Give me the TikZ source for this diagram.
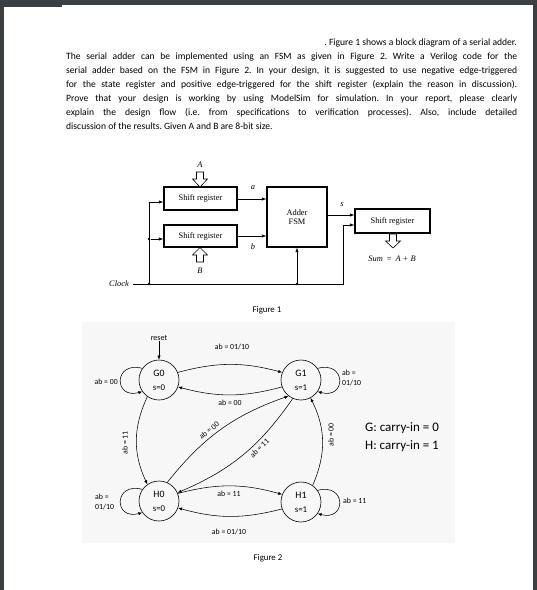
\documentclass[tikz,border=0pt]{standalone}
\usepackage{fontspec}
\setmainfont{Carlito}
\newfontfamily\tms{Liberation Serif}
\usetikzlibrary{arrows.meta}
\definecolor{frame}{HTML}{3C3F42}
\tikzset{
  body/.style={anchor=base west,inner sep=0pt,font=\fontsize{9.6}{11}\selectfont},
  regbox/.style={draw,line width=1.1pt,inner sep=0pt},
  serif/.style={font=\tms\fontsize{8.4}{9.5}\selectfont,inner sep=0pt},
  serifit/.style={font=\tms\itshape\fontsize{8.4}{9.5}\selectfont,inner sep=0pt},
  wire/.style={line width=0.6pt},
  wirear/.style={line width=0.6pt,-{Latex[length=4.5pt,width=3.2pt]}},
  hollow/.style={line width=0.6pt,fill=white},
  state/.style={draw,circle,line width=0.6pt,minimum size=40pt,inner sep=0pt,align=center},
  trans/.style={line width=0.55pt,-{Latex[length=4pt,width=3.2pt]}},
  lab/.style={font=\fontsize{7.8}{10}\selectfont,inner sep=0pt},
  dot/.style={circle,fill,inner sep=0pt,minimum size=2.6pt}
}
\newcommand\hollowdown[3]{\draw[hollow] ({#1-3.5},#2) -- ({#1+3.5},#2) -- ({#1+3.5},{#2-7}) -- ({#1+7.5},{#2-7}) -- (#1,#3) -- ({#1-7.5},{#2-7}) -- ({#1-3.5},{#2-7}) -- cycle;}
\newcommand\hollowup[3]{\draw[hollow] ({#1-3.5},#2) -- ({#1+3.5},#2) -- ({#1+3.5},{#2+7}) -- ({#1+7.5},{#2+7}) -- (#1,#3) -- ({#1-7.5},{#2+7}) -- ({#1-3.5},{#2+7}) -- cycle;}
\frenchspacing
\begin{document}
\begin{tikzpicture}[x=1pt,y=1pt]
\useasboundingbox (0,0) rectangle (537,-590);
\fill[white] (0,0) rectangle (537,-590);
\fill[black!3] (82,-322) rectangle (455,-543);
% frame
\fill[frame] (0,0) rectangle (537,-5);
\fill[frame] (0,0) rectangle (62,-7);
\fill[frame] (0,0) rectangle (4,-590);
\fill[frame] (533,0) rectangle (537,-590);

% body text
\node[body,anchor=base east] (l1) at (517,-45.3) {. Figure 1 shows a block diagram of a serial adder.};
\node[body] (l2) at (66,-59.4) {\makebox[451pt][s]{The serial adder can be implemented using an FSM as given in Figure 2. Write a Verilog code for the}};
\node[body] (l3) at (66,-73.5) {\makebox[451pt][s]{serial adder based on the FSM in Figure 2. In your design, it is suggested to use negative edge-triggered}};
\node[body] (l4) at (66,-87.6) {\makebox[451pt][s]{for the state register and positive edge-triggered for the shift register (explain the reason in discussion).}};
\node[body] (l5) at (66,-101.7) {\makebox[451pt][s]{Prove that your design is working by using ModelSim for simulation. In your report, please clearly}};
\node[body] (l6) at (66,-115.8) {\makebox[451pt][s]{explain the design flow (i.e. from specifications to verification processes). Also, include detailed}};
\node[body] (l7) at (66,-129.9) {discussion of the results. Given A and B are 8-bit size.};

% Figure 1
\node[regbox,minimum width=73pt,minimum height=23pt,serif] (sra) at (200.5,-198.5) {Shift register};
\node[regbox,minimum width=73pt,minimum height=22pt,serif] (srb) at (200.5,-236) {Shift register};
\node[regbox,minimum width=60pt,minimum height=60pt] (fsm) at (297,-217) {};
\node[serif,align=center] (fsmt) at (297,-217) {Adder\\[-1pt]FSM};
\node[regbox,minimum width=75pt,minimum height=24pt,serif] (srs) at (392.5,-221) {Shift register};
\node[serifit] (A) at (200,-165) {A};
\node[serifit] (B) at (200,-271) {B};
\node[serifit] (la) at (253,-188) {a};
\node[serifit] (lb) at (253,-247) {b};
\node[serifit] (ls) at (342,-205) {s};
\node[serifit] (sum) at (392,-259) {Sum\ \,=\ \,A + B};
\node[serifit,anchor=east] (clk) at (129,-284) {Clock};
\hollowdown{200}{-172}{-187}
\hollowup{200}{-262}{-247.5}
\hollowdown{393}{-234}{-248}
\coordinate (c0) at (133,-284);
\node[dot] (d1) at (149,-284) {};
\node[dot] (d2) at (149,-239) {};
\node[dot] (d3) at (297,-284) {};
\coordinate (c1) at (149,-202);
\coordinate (c2) at (343,-284);
\coordinate (c3) at (343,-225);
\draw[wire] (c0) -- (c2) -- (c3);
\draw[wirear] (c3) -- (srs.west |- c3);
\draw[wire] (d1) -- (c1);
\draw[wirear] (c1) -- (sra.west |- c1);
\draw[wirear] (d2) -- (srb.west |- d2);
\draw[wirear] (d3) -- (fsm.south);
\draw[wirear] (sra.east |- 0,-199) -- (fsm.west |- 0,-199);
\draw[wirear] (srb.east |- 0,-236) -- (fsm.west |- 0,-236);
\draw[wirear] (fsm.east |- 0,-215) -- (srs.west |- 0,-215);
\node[font=\fontsize{8.8}{10}\selectfont] (fig1) at (267,-310) {Figure 1};

% Figure 2
\node[state] (G0) at (159,-380) {\fontsize{9.8}{11}\selectfont G0\\[2pt]\fontsize{8.8}{10}\selectfont s=0};
\node[state] (G1) at (301,-380) {\fontsize{9.8}{11}\selectfont G1\\[2pt]\fontsize{8.8}{10}\selectfont s=1};
\node[state] (H0) at (159,-501) {\fontsize{9.8}{11}\selectfont H0\\[2pt]\fontsize{8.8}{10}\selectfont s=0};
\node[state] (H1) at (301,-502) {\fontsize{9.8}{11}\selectfont H1\\[2pt]\fontsize{8.8}{10}\selectfont s=1};
\node[lab,font=\fontsize{8}{9}\selectfont] (reset) at (159,-338) {reset};
\draw[trans] (reset.south) -- (G0.north);

\draw[trans] (G0.22) to[bend left=15] (G1.158);
\draw[trans] (G1.200) to[bend left=15] (G0.-20);
\draw[trans] (H0.22) to[bend left=15] (H1.158);
\draw[trans] (H1.200) to[bend left=15] (H0.-20);
\draw[trans] (G0.145) .. controls +(165:30) and +(195:30) .. (G0.215);
\draw[trans] (G1.35) .. controls +(15:30) and +(-15:30) .. (G1.-35);
\draw[trans] (H0.145) .. controls +(165:30) and +(195:30) .. (H0.215);
\draw[trans] (H1.35) .. controls +(15:30) and +(-15:30) .. (H1.-35);
\draw[trans] (G0.235) to[bend right=25] (H0.125);
\draw[trans] (H1.55) to[bend right=25] (G1.298);
\draw[trans] (H0.66) to[bend left=16] node[lab,pos=0.43,sloped,above=3.5pt] (t11) {ab = 00} (G1.232);
\draw[trans] (G1.246) to[bend left=16] node[lab,pos=0.38,sloped,below=3pt] (t12) {ab = 11} (H0.24);

\node[lab] (t1) at (232,-347) {ab = 01/10};
\node[lab] (t2) at (230,-403) {ab = 00};
\node[lab] (t3) at (229,-494) {ab = 11};
\node[lab] (t4) at (229,-532) {ab = 01/10};
\node[lab,anchor=east] (t5) at (118,-382) {ab = 00};
\node[lab,anchor=west,align=left] (t6) at (342,-378) {ab =\\01/10};
\node[lab,anchor=west,align=left] (t7) at (95,-502) {ab =\\01/10};
\node[lab,anchor=west] (t8) at (343,-501) {ab = 11};
\node[lab,rotate=90] (t9) at (125,-443) {ab = 11};
\node[lab,rotate=90] (t10) at (331,-435) {ab = 00};
\node[anchor=west,font=\fontsize{13}{15}\selectfont,inner sep=0pt] (g) at (365,-428) {G: carry-in = 0};
\node[anchor=west,font=\fontsize{13}{15}\selectfont,inner sep=0pt] (h) at (365,-446) {H: carry-in = 1};
\node[font=\fontsize{8.8}{10}\selectfont] (fig2) at (268,-558) {Figure 2};
\end{tikzpicture}
\end{document}
